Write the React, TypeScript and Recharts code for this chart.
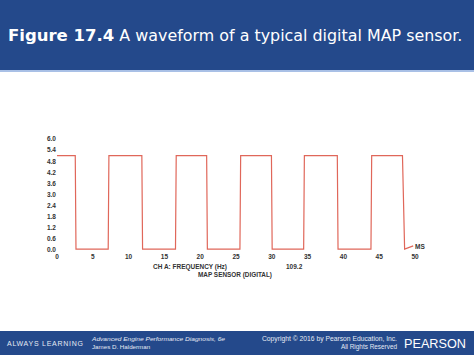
import { LineChart, Line, XAxis, YAxis } from "recharts";

// waveform sample times (ms) and voltage (V)
const times = [
  0, 2.55, 2.65, 7.15, 7.25, 11.85, 11.95, 16.55, 16.65, 20.9, 21.0, 25.55,
  25.65, 29.95, 30.05, 34.45, 34.55, 39.15, 39.25, 43.85, 43.95, 48.25, 48.55,
  49.75,
];
const volts = [
  5.1, 5.1, 0.05, 0.05, 5.1, 5.1, 0.05, 0.05, 5.1, 5.1, 0.05, 0.05, 5.1, 5.1,
  0.05, 0.05, 5.1, 5.1, 0.05, 0.05, 5.1, 5.1, 0.05, 0.22,
];

const xTicks = [0, 5, 10, 15, 20, 25, 30, 35, 40, 45, 50];
const yTicks = [0, 0.6, 1.2, 1.8, 2.4, 3.0, 3.6, 4.2, 4.8, 5.4, 6.0];

const data = times.map((t, i) => ({ t, v: volts[i] }));

const BLUE = "#24498b";
const TRACE = "#e0675a";
const tickStyle = {
  fontFamily: "'Liberation Sans', Arial, sans-serif",
  fontSize: 6.5,
  fontWeight: 700,
  fill: "#333",
};

export default function App() {
  return (
    <div
      style={{
        position: "absolute",
        left: 0,
        top: 0,
        width: 474,
        height: 355,
        background: "#fff",
        overflow: "hidden",
      }}
    >
      <div
        style={{
          position: "absolute",
          left: 0,
          top: 0,
          width: 474,
          height: 70,
          background: BLUE,
        }}
      />
      <div
        style={{
          position: "absolute",
          left: 0,
          top: 70,
          width: 474,
          height: 2,
          background: "#a9c0e6",
        }}
      />
      <div
        style={{
          position: "absolute",
          left: 0,
          top: 331,
          width: 474,
          height: 24,
          background: BLUE,
        }}
      />

      <div style={{ position: "absolute", left: 0, top: 0 }}>
        <LineChart
          width={474}
          height={355}
          data={data}
          margin={{ top: 139, right: 59, left: 27, bottom: 85 }}
        >
          <XAxis
            dataKey="t"
            type="number"
            domain={[0, 50]}
            ticks={xTicks}
            axisLine={false}
            tickLine={false}
            tickSize={0}
            tickMargin={4}
            height={20}
            interval={0}
            tick={tickStyle}
          />
          <YAxis
            type="number"
            domain={[0, 6]}
            ticks={yTicks}
            axisLine={false}
            tickLine={false}
            tickSize={0}
            tickMargin={1}
            width={30}
            interval={0}
            tick={tickStyle}
            tickFormatter={(v: number) => v.toFixed(1)}
          />
          <Line
            type="linear"
            dataKey="v"
            stroke={TRACE}
            strokeWidth={1.2}
            dot={false}
            isAnimationActive={false}
          />
        </LineChart>
      </div>

      <svg
        width={474}
        height={355}
        style={{ position: "absolute", left: 0, top: 0, pointerEvents: "none" }}
      >
        <text
          x={8}
          y={41}
          fill="#fff"
          fontFamily="'DejaVu Sans', Verdana, sans-serif"
          fontSize={16.5}
        >
          <tspan fontWeight={700}>Figure 17.4</tspan>
          <tspan fontSize={15.9}> A waveform of a typical digital MAP sensor.</tspan>
        </text>

        <g {...tickStyle}>
          <text x={153} y={268.5} textLength={74} lengthAdjust="spacingAndGlyphs">
            CH A: FREQUENCY (Hz)
          </text>
          <text x={286} y={268.5}>109.2</text>
          <text x={198} y={277} textLength={74} lengthAdjust="spacingAndGlyphs">
            MAP SENSOR (DIGITAL)
          </text>
          <text x={415} y={248.5}>MS</text>
        </g>

        <g fontFamily="'Liberation Sans', Arial, sans-serif" fill="#e4eaf4">
          <text x={7} y={345.5} fontSize={7} textLength={76} lengthAdjust="spacing">
            ALWAYS LEARNING
          </text>
          <text
            x={92}
            y={341}
            fontSize={6.2}
            fontStyle="italic"
            textLength={133}
            lengthAdjust="spacingAndGlyphs"
          >
            Advanced Engine Performance Diagnosis, 6e
          </text>
          <text x={92} y={349} fontSize={6.2}>
            James D. Halderman
          </text>
          <text
            x={262}
            y={341}
            fontSize={6.4}
            textLength={135}
            lengthAdjust="spacingAndGlyphs"
          >
            Copyright © 2016 by Pearson Education, Inc.
          </text>
          <text x={397} y={349} fontSize={6.4} textAnchor="end">
            All Rights Reserved
          </text>
          <text
            x={404}
            y={348}
            fontSize={13.5}
            fill="#fff"
            textLength={62}
            lengthAdjust="spacingAndGlyphs"
          >
            PEARSON
          </text>
        </g>
      </svg>
    </div>
  );
}
